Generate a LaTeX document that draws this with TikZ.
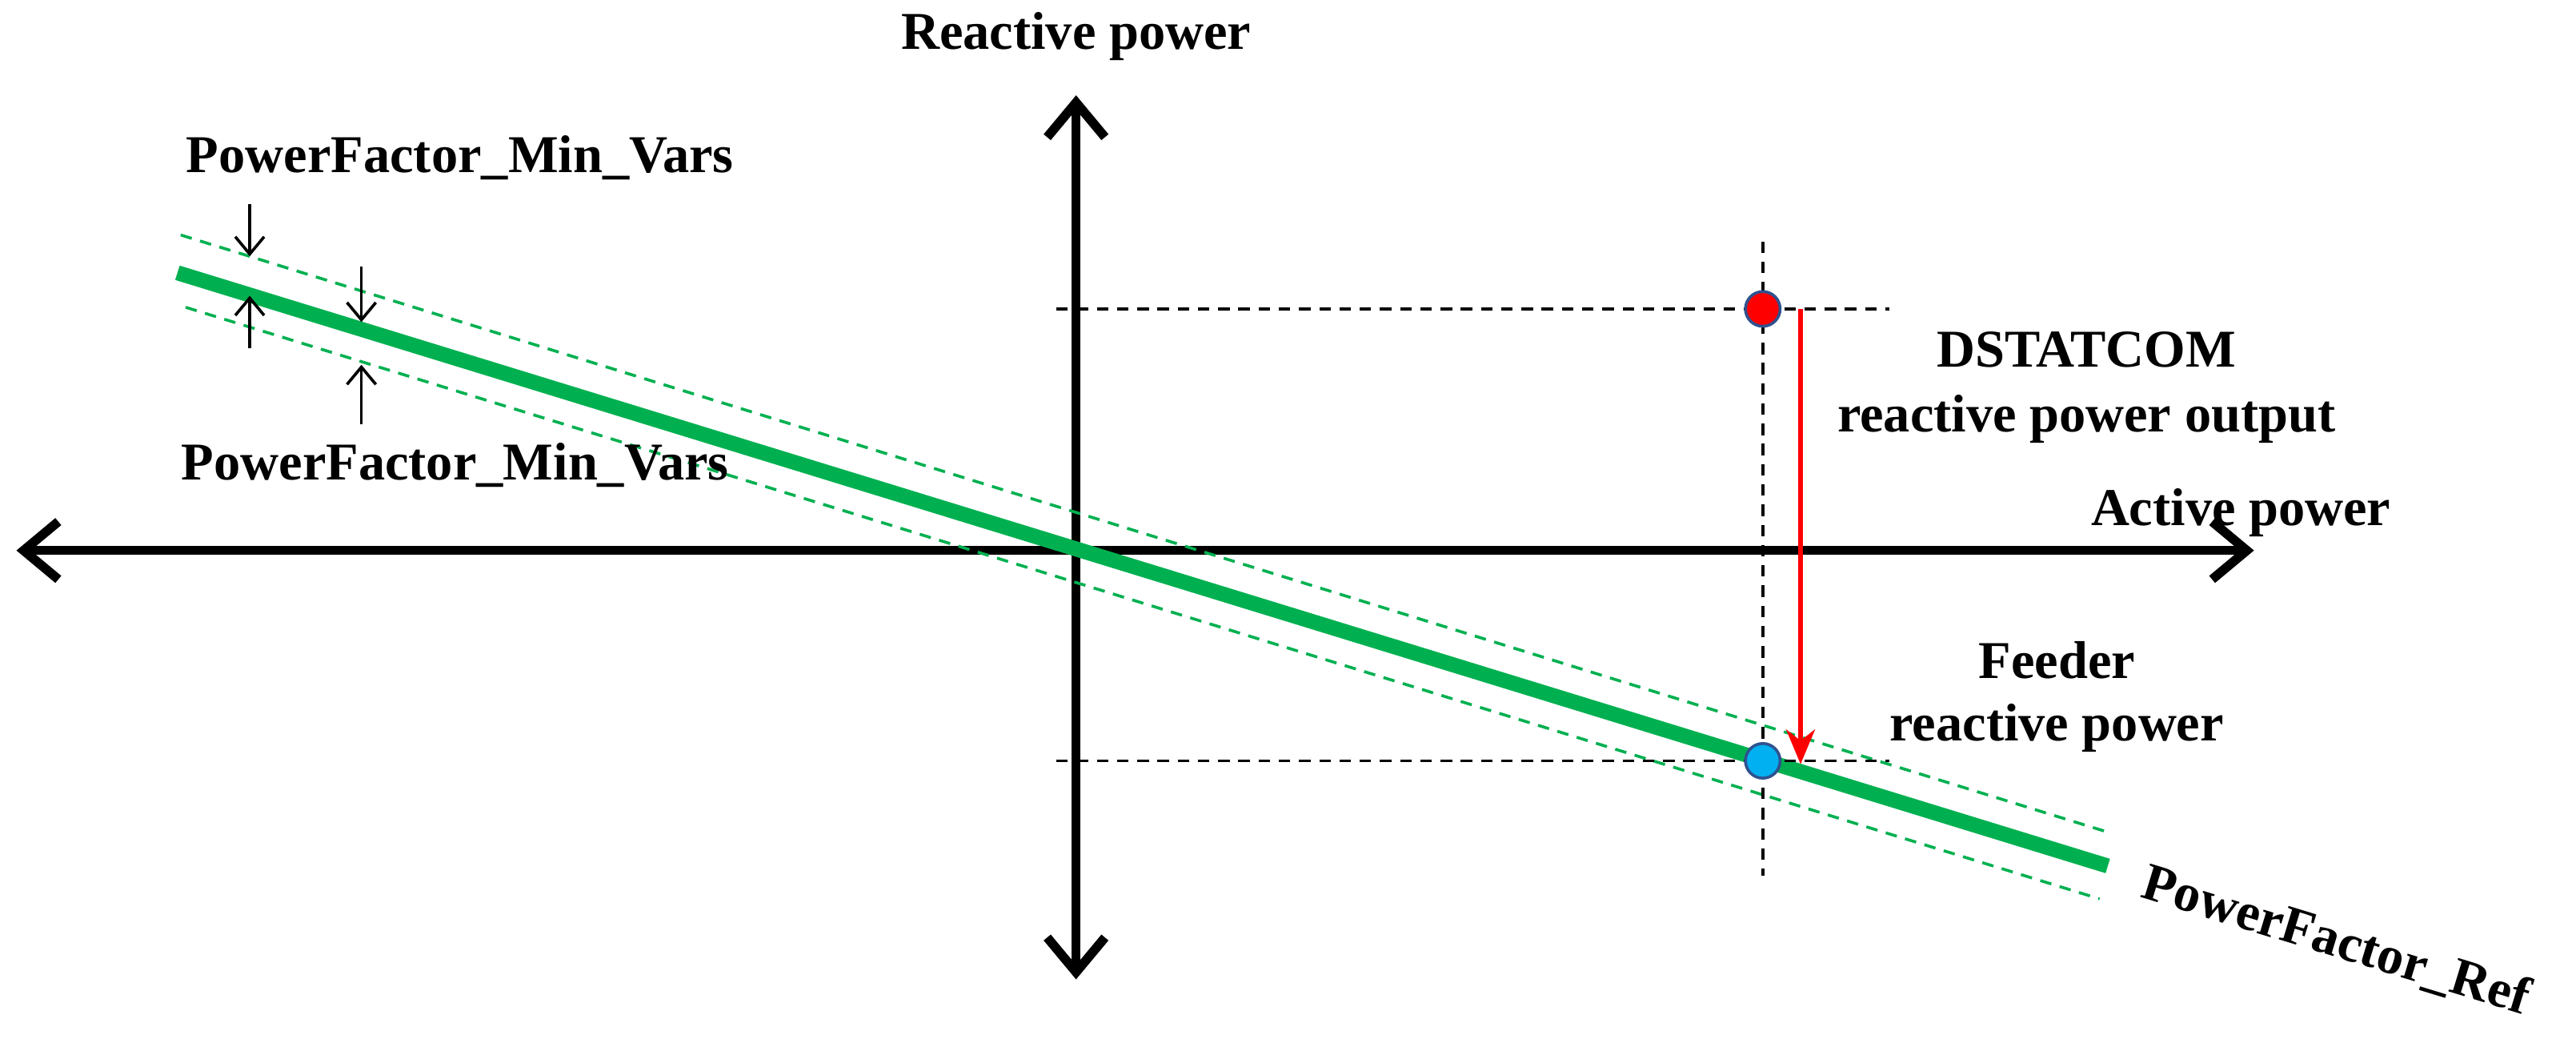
\documentclass[tikz,border=0pt]{standalone}
\usepackage{fontspec}
\setmainfont{Liberation Serif}
\usetikzlibrary{arrows.meta}
\begin{document}
\begin{tikzpicture}[x=0.01cm,y=-0.01cm,
  lbl/.style={font=\fontsize{9.2}{11}\selectfont\bfseries,inner sep=0pt},
  axis/.style={line width=1.6pt,{Stealth[open,length=6pt,width=8pt,fill=none]}-{Stealth[open,length=6pt,width=8pt,fill=none]}},
  ax1/.style={line width=1.6pt},
  gdash/.style={draw={rgb,255:red,0;green,176;blue,80},dashed,line width=0.5pt,dash pattern=on 2pt off 1.5pt},
  kdash/.style={dashed,line width=0.5pt,dash pattern=on 2pt off 1.5pt},
  small/.style={-{Straight Barb[length=3pt,width=5pt]},line width=0.5pt},
  dot/.style={circle,draw={rgb,255:red,47;green,82;blue,143},line width=0.5pt,minimum size=6pt,inner sep=0pt}]
\useasboundingbox (0,0) rectangle (1568,637);
\coordinate (xl) at (10,335); \coordinate (xr) at (1372,335);
\coordinate (yt) at (655,58); \coordinate (yb) at (655,596);
\draw[line width=1.6pt,{Straight Barb[length=6pt,width=10pt]}-{Straight Barb[length=6pt,width=10pt]}] (xl) -- (xr);
\draw[line width=1.6pt,{Straight Barb[length=6pt,width=10pt]}-{Straight Barb[length=6pt,width=10pt]}] (yb) -- (yt);
\coordinate (ga) at (108,166); \coordinate (gb) at (1283,527);
\draw[line width=2.6pt,draw={rgb,255:red,0;green,176;blue,80}] (ga) -- (gb);
\coordinate (ua) at (110,143); \coordinate (ub) at (1285,507);
\coordinate (la) at (113,187); \coordinate (lb) at (1278,547);
\draw[gdash] (ua) -- (ub);
\draw[gdash] (la) -- (lb);
\coordinate (v1) at (1073,147); \coordinate (v2) at (1073,533);
\draw[kdash] (v1) -- (v2);
\coordinate (h1a) at (643,188); \coordinate (h1b) at (1150,188);
\coordinate (h2a) at (643,463); \coordinate (h2b) at (1150,463);
\draw[kdash] (h1a) -- (h1b);
\draw[kdash] (h2a) -- (h2b);
\coordinate (ra) at (1096,188); \coordinate (rb) at (1096,465);
\draw[red,line width=0.8pt,-{Stealth[length=6pt,width=5pt]}] (ra) -- (rb);
\node[dot,fill=red] (rd) at (1073,188) {};
\node[dot,fill={rgb,255:red,0;green,176;blue,240}] (bd) at (1073,463) {};
\coordinate (s1a) at (152,124); \coordinate (s1b) at (152,156);
\coordinate (s2a) at (152,212); \coordinate (s2b) at (152,180);
\coordinate (s3a) at (220,162); \coordinate (s3b) at (220,196);
\coordinate (s4a) at (220,258); \coordinate (s4b) at (220,222);
\draw[small] (s1a) -- (s1b);
\draw[small] (s2a) -- (s2b);
\draw[small] (s3a) -- (s3b);
\draw[small] (s4a) -- (s4b);
\node[lbl] (t1) at (655,22) {Reactive power};
\node[lbl] (t2) at (280,96) {PowerFactor\_Min\_Vars};
\node[lbl] (t3) at (277,283) {PowerFactor\_Min\_Vars};
\node[lbl] (t4) at (1270,213) {DSTATCOM};
\node[lbl] (t5) at (1270,255) {reactive power output};
\node[lbl] (t6) at (1364,312) {Active power};
\node[lbl] (t7) at (1252,402) {Feeder};
\node[lbl] (t8) at (1252,443) {reactive power};
\node[lbl,rotate=-17] (t9) at (1422,573) {PowerFactor\_Ref};
\end{tikzpicture}
\end{document}
